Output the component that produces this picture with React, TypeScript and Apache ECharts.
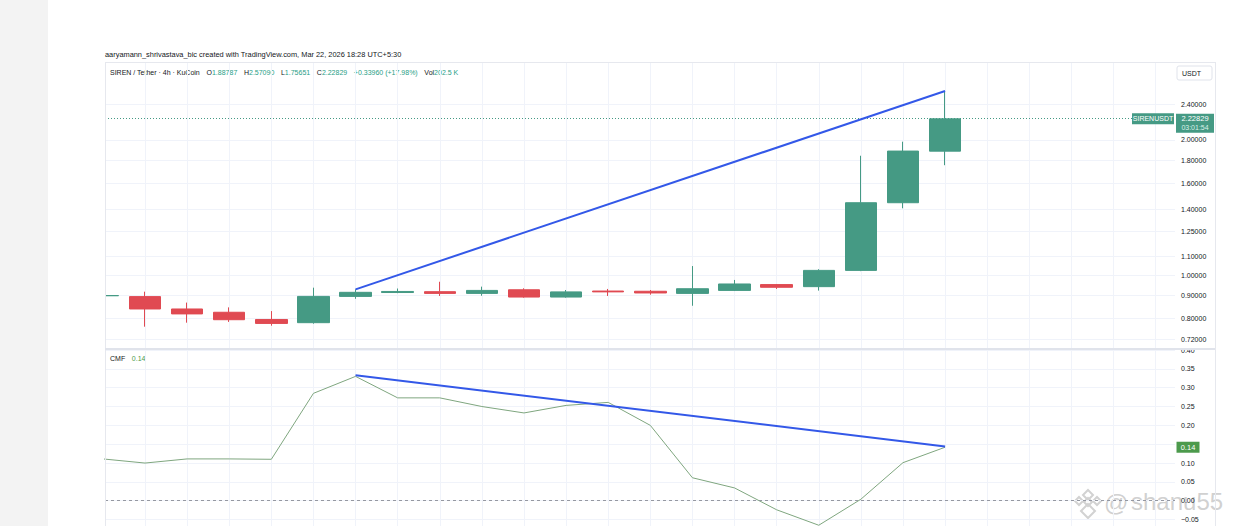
import React, { useEffect, useRef } from "react";
import * as echarts from "echarts";

// ---- data (4h candles, SIREN / Tether, KuCoin) ----
const candleIndex = [0, 1, 2, 3, 4, 5, 6, 7, 8, 9, 10, 11, 12, 13, 14, 15, 16, 17, 18, 19, 20];
const opens = [0.899, 0.895, 0.840, 0.826, 0.796, 0.783, 0.896, 0.914, 0.918, 0.910, 0.927, 0.893, 0.921, 0.920, 0.910, 0.924, 0.952, 0.942, 1.024, 1.449, 1.88787];
const closes = [0.900, 0.840, 0.819, 0.795, 0.780, 0.896, 0.915, 0.919, 0.910, 0.924, 0.893, 0.917, 0.917, 0.912, 0.932, 0.955, 0.939, 1.024, 1.449, 1.88869, 2.22829];
const lows = [0.898, 0.767, 0.783, 0.786, 0.771, 0.779, 0.885, 0.911, 0.898, 0.899, 0.890, 0.890, 0.898, 0.904, 0.854, 0.921, 0.931, 0.923, 1.020, 1.408, 1.75651];
const highs = [0.901, 0.918, 0.868, 0.847, 0.831, 0.937, 0.929, 0.933, 0.966, 0.942, 0.934, 0.926, 0.931, 0.926, 1.047, 0.975, 0.955, 1.030, 1.844, 1.982, 2.5709];
const cmfValues = [0.111, 0.100, 0.111, 0.111, 0.110, 0.285, 0.330, 0.273, 0.273, 0.250, 0.233, 0.253, 0.261, 0.200, 0.061, 0.034, -0.024, -0.065, 0.004, 0.101, 0.142];

const priceTicks = [0.72, 0.8, 0.9, 1.0, 1.1, 1.25, 1.4, 1.6, 1.8, 2.0, 2.4];
const cmfTicks = [-0.05, 0, 0.05, 0.1, 0.15, 0.2, 0.25, 0.3, 0.35, 0.4];
const gridSlots = [0, 1, 2, 3, 4, 5, 6, 7, 8, 9, 10, 11, 12, 13, 14, 15, 16, 17, 18, 19, 20, 21, 22, 23, 24, 25];

// trend line anchors (candle index, value)
const priceTrend = [[6, 0.929], [20, 2.5709]];
const cmfTrend = [[6, 0.333], [20, 0.144]];

const volumeText = "202.5 K";
const countdownText = "03:01:54";
const watermarkText = "shanu55";

const UP = "#459a84";
const DOWN = "#e04a52";
const GREEN_TXT = "#1f9e86";
const DARK = "#131722";
const BLUE = "#3358e8";
const FONT = "Liberation Sans";

const xMin = 0.05;
const xMax = 25.46;

export default function App() {
  const ref = useRef<HTMLDivElement>(null);

  useEffect(() => {
    if (!ref.current) return;
    const chart = echarts.init(ref.current, undefined, { renderer: "svg" });

    const n = candleIndex.length;
    const last = n - 1;
    const lastClose = closes[last];
    const change = lastClose - closes[last - 1];
    const changePct = (change / closes[last - 1]) * 100;
    const lastCmf = cmfValues[last];

    const candleData = candleIndex.map((i) => [i, opens[i], closes[i], lows[i], highs[i]]);
    const cmfData = candleIndex.map((i) => [i, cmfValues[i]]);

    const headerRich =
      `{d|SIREN / Tether · 4h · KuCoin}  {d|O}{g|${opens[last].toFixed(5)}}  {d|H}{g|${highs[last].toFixed(5)}}  ` +
      `{d|L}{g|${lows[last].toFixed(5)}}  {d|C}{g|${lastClose.toFixed(5)}}  ` +
      `{g|${change >= 0 ? "+" : ""}${change.toFixed(5)} (${change >= 0 ? "+" : ""}${changePct.toFixed(2)}%)}  {d|Vol}{g|${volumeText}}`;

    const xAxisBase = (gi: number) => ({
      type: "value",
      gridIndex: gi,
      min: xMin,
      max: xMax,
      axisLine: { show: false },
      axisTick: { show: false, customValues: gridSlots },
      axisLabel: { show: false },
      splitLine: { show: true, lineStyle: { color: "#f0f3fa", width: 1 } },
    });

    const option: any = {
      animation: false,
      backgroundColor: "#ffffff",
      textStyle: { fontFamily: FONT },
      grid: [
        { left: 105, top: 62, width: 1070, height: 286 },
        { left: 105, top: 350, width: 1070, height: 176 },
      ],
      xAxis: [xAxisBase(0), xAxisBase(1)],
      yAxis: [
        {
          type: "log",
          gridIndex: 0,
          position: "right",
          min: 0.6876,
          max: 2.983,
          axisLine: { show: false },
          axisTick: { show: false, customValues: priceTicks },
          axisLabel: {
            customValues: priceTicks,
            formatter: (v: number) => v.toFixed(5),
            color: DARK,
            fontSize: 7,
            fontFamily: FONT,
            margin: 6,
          },
          splitLine: { show: true, lineStyle: { color: "#f0f3fa", width: 1 } },
        },
        {
          type: "value",
          gridIndex: 1,
          position: "right",
          min: -0.067,
          max: 0.4,
          axisLine: { show: false },
          axisTick: { show: false, customValues: cmfTicks },
          axisLabel: {
            customValues: cmfTicks,
            formatter: (v: number) => (Math.abs(v) < 1e-9 ? "0.00" : v < 0 ? "\u2212" + Math.abs(v).toFixed(2) : v.toFixed(2)),
            color: DARK,
            fontSize: 7,
            fontFamily: FONT,
            margin: 6,
          },
          splitLine: { show: true, lineStyle: { color: "#f0f3fa", width: 1 } },
        },
      ],
      series: [
        {
          type: "candlestick",
          xAxisIndex: 0,
          yAxisIndex: 0,
          data: candleData,
          encode: { x: 0, y: [1, 2, 3, 4] },
          barWidth: 32,
          clip: true,
          itemStyle: {
            color: UP,
            color0: DOWN,
            borderColor: UP,
            borderColor0: DOWN,
            borderWidth: 1,
          },
          markLine: {
            silent: true,
            symbol: ["none", "none"],
            label: { show: false },
            data: [
              { yAxis: lastClose, lineStyle: { color: UP, type: [1, 2], width: 1 } },
              [
                { coord: priceTrend[0], lineStyle: { color: BLUE, width: 2, type: "solid" } },
                { coord: priceTrend[1] },
              ],
            ],
          },
          markPoint: {
            silent: true,
            data: [
              {
                coord: [xMax, lastClose],
                symbol: "rect",
                symbolSize: [42, 11],
                symbolOffset: [-22, 0],
                itemStyle: { color: UP },
                label: {
                  show: true,
                  position: "inside",
                  formatter: "SIRENUSDT",
                  color: "#ffffff",
                  fontSize: 7,
                  fontFamily: FONT,
                },
              },
              {
                coord: [xMax, lastClose],
                symbol: "rect",
                symbolSize: [38, 19],
                symbolOffset: [20, 4.5],
                itemStyle: { color: UP },
                label: {
                  show: true,
                  position: "inside",
                  formatter: `{a|${lastClose.toFixed(5)}}\n{b|${countdownText}}`,
                  rich: {
                    a: { color: "#ffffff", fontSize: 7.5, fontFamily: FONT, lineHeight: 9 },
                    b: { color: "#d9f0e9", fontSize: 7, fontFamily: FONT, lineHeight: 9 },
                  },
                },
              },
            ],
          },
        },
        {
          type: "line",
          xAxisIndex: 1,
          yAxisIndex: 1,
          data: cmfData,
          showSymbol: false,
          clip: true,
          lineStyle: { color: "#7fa67f", width: 1 },
          markLine: {
            silent: true,
            symbol: ["none", "none"],
            label: { show: false },
            data: [
              { yAxis: 0, lineStyle: { color: "#9598a1", type: [3, 3], width: 1 } },
              [
                { coord: cmfTrend[0], lineStyle: { color: BLUE, width: 2, type: "solid" } },
                { coord: cmfTrend[1] },
              ],
            ],
          },
          markPoint: {
            silent: true,
            data: [
              {
                coord: [xMax, lastCmf],
                symbol: "rect",
                symbolSize: [23, 11],
                symbolOffset: [13, 0],
                itemStyle: { color: "#4c9a4c" },
                label: {
                  show: true,
                  position: "inside",
                  formatter: lastCmf.toFixed(2),
                  color: "#ffffff",
                  fontSize: 7.5,
                  fontFamily: FONT,
                },
              },
            ],
          },
        },
      ],
      graphic: [
        { type: "rect", silent: true, z: -10, shape: { x: 0, y: 0, width: 48, height: 526 }, style: { fill: "#f3f3f3" } },
        // mask for the part of the first candle that lies left of the pane
        { type: "rect", silent: true, z: 50, shape: { x: 48, y: 62, width: 57, height: 290 }, style: { fill: "#ffffff" } },
        // frame
        { type: "line", silent: true, z: 60, shape: { x1: 105, y1: 62.5, x2: 1215, y2: 62.5 }, style: { stroke: "#e6e8ee", lineWidth: 1 } },
        { type: "line", silent: true, z: 60, shape: { x1: 105.5, y1: 62, x2: 105.5, y2: 526 }, style: { stroke: "#e6e8ee", lineWidth: 1 } },
        { type: "line", silent: true, z: 60, shape: { x1: 1215.5, y1: 62, x2: 1215.5, y2: 526 }, style: { stroke: "#e6e8ee", lineWidth: 1 } },
        { type: "line", silent: true, z: 60, shape: { x1: 105, y1: 349, x2: 1215, y2: 349 }, style: { stroke: "#e0e3eb", lineWidth: 2 } },
        // titles
        {
          type: "text",
          silent: true,
          x: 105,
          y: 54,
          style: {
            text: "aaryamann_shrivastava_bic created with TradingView.com, Mar 22, 2026 18:28 UTC+5:30",
            fill: DARK,
            fontSize: 7.4,
            fontFamily: FONT,
            verticalAlign: "middle",
          },
        },
        {
          type: "text",
          silent: true,
          x: 110,
          y: 72,
          style: {
            text: headerRich,
            verticalAlign: "middle",
            rich: {
              d: { fill: DARK, fontSize: 7, fontFamily: FONT },
              g: { fill: GREEN_TXT, fontSize: 7, fontFamily: FONT },
            },
          },
        },
        {
          type: "text",
          silent: true,
          x: 110,
          y: 358,
          style: {
            text: `{d|CMF}  {g|${lastCmf.toFixed(2)}}`,
            verticalAlign: "middle",
            rich: {
              d: { fill: DARK, fontSize: 7, fontFamily: FONT },
              g: { fill: "#4c9a4c", fontSize: 7, fontFamily: FONT },
            },
          },
        },
        // USDT box
        {
          type: "rect",
          silent: true,
          shape: { x: 1177, y: 66, width: 35, height: 14, r: 2 },
          style: { fill: "#ffffff", stroke: "#e0e3eb", lineWidth: 1 },
        },
        {
          type: "text",
          silent: true,
          x: 1182,
          y: 73,
          style: { text: "USDT", fill: DARK, fontSize: 7, fontFamily: FONT, verticalAlign: "middle" },
        },
        // watermark
        {
          type: "group",
          silent: true,
          z: 70,
          children: [
            { type: "polygon", shape: { points: [[1088, 490], [1093, 495], [1088, 500], [1083, 495]] }, style: { fill: "none", stroke: "#d2d2d2", lineWidth: 2 } },
            { type: "polygon", shape: { points: [[1088, 498], [1092, 502], [1088, 506], [1084, 502]] }, style: { fill: "none", stroke: "#d2d2d2", lineWidth: 2 } },
            { type: "polygon", shape: { points: [[1079, 497], [1083, 501], [1079, 505], [1075, 501]] }, style: { fill: "none", stroke: "#d2d2d2", lineWidth: 2 } },
            { type: "polygon", shape: { points: [[1097, 497], [1101, 501], [1097, 505], [1093, 501]] }, style: { fill: "none", stroke: "#d2d2d2", lineWidth: 2 } },
            { type: "polygon", shape: { points: [[1088, 504], [1095, 511], [1088, 518], [1081, 511]] }, style: { fill: "none", stroke: "#d2d2d2", lineWidth: 2 } },
            {
              type: "text",
              x: 1104,
              y: 502,
              style: { text: "@", fill: "#cbcbcb", fontSize: 24, fontFamily: FONT, verticalAlign: "middle", opacity: 0.9 },
            },
            {
              type: "text",
              x: 1131,
              y: 501,
              style: { text: watermarkText, fill: "#cbcbcb", fontSize: 24, fontFamily: FONT, verticalAlign: "middle", opacity: 0.9 },
            },
          ],
        },
      ],
    };

    chart.setOption(option);
    return () => chart.dispose();
  }, []);

  return (
    <div
      ref={ref}
      style={{ position: "absolute", left: 0, top: 0, width: 1236, height: 526, background: "#ffffff" }}
    />
  );
}
